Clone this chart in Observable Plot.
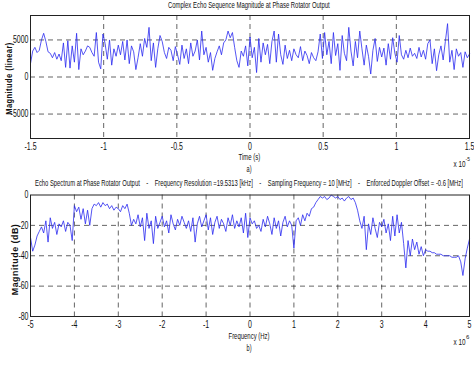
<!DOCTYPE html>
<html><head><meta charset="utf-8">
<script src="https://cdn.jsdelivr.net/npm/d3@7"></script>
<script src="https://cdn.jsdelivr.net/npm/@observablehq/plot@0.6"></script>
<style>
html,body{margin:0;padding:0;background:#fff;}
#root{position:relative;width:474px;height:377px;overflow:hidden;background:#fff;font-family:"Liberation Sans",Arial,sans-serif;}
.lbl{position:absolute;white-space:pre;line-height:1;color:#111;}
#root svg{position:absolute;left:0;}
</style></head><body><div id="root"></div>
<script>
// ---- Data: panel a) echo magnitude (linear), time in units of 1e-5 s ----
const timeStart = -1.5, timeStep = 0.015;
const magnitude = [
 1800,3500,4000,3300,3600,5000,5900,4800,3400,3200,
 2600,3300,2400,3100,2200,4600,1300,4900,1200,4200,
 2000,5900,1000,3800,3000,3500,4200,4000,3300,2800,
 6000,2000,1100,5800,4500,2400,5000,1600,3800,2800,
 4300,3000,4800,2300,5000,1800,4200,3400,1000,2600,
 4500,2800,5200,4000,6700,2200,4600,1300,3800,5600,
 4800,3300,2500,4000,3600,2200,4100,3000,1700,4300,
 2500,3800,1800,4600,2800,3500,5000,2300,6200,3000,
 4000,2000,3300,900,2500,3400,4200,3000,4600,5000,
 6200,5300,6000,4000,2200,1300,3500,2800,4200,1500,
 5400,2600,4000,600,5200,2000,4600,3000,4400,1800,
 4800,6200,2000,5800,3000,1700,4300,2500,3600,2200,
 3800,3000,2600,4100,2200,3500,2900,1800,3300,2600,
 2200,3400,5800,2500,6000,3000,4800,1800,6000,2900,
 4500,900,5600,3200,2200,6700,3500,1500,4800,2600,
 6200,3800,1600,4300,2800,400,3600,5200,2100,4000,
 2700,3900,1600,4500,2400,5300,3200,2000,5600,3000,
 2400,3600,2600,3900,2800,3200,2500,4000,2700,3600,
 2400,4500,5000,1800,3800,850,3000,4200,2300,4800,
 7200,2000,3600,1000,3800,2800,3300,1300,3400,2600,3100
];
const timeTicks = [-1.5, -1, -0.5, 0, 0.5, 1, 1.5];
const magTicks = [-5000, 0, 5000];

// ---- Data: panel b) echo spectrum (dB), frequency in units of 1e6 Hz ----
const freqStart = -5, freqStep = 0.05;
const spectrum = [
 -28,-37,-33,-27,-24,-21,-25,-17,-31,-15,
 -22,-18,-26,-19,-21,-17,-24,-18,-20,-30,
 -7,-11,-8,-16,-9,-19,-10,-20,-9,-6,
 -7,-5,-8,-5,-7,-6,-9,-7,-10,-8,
 -9,-11,-7,-9,-6,-12,-20,-16,-19,-13,
 -21,-15,-30,-12,-22,-17,-32,-14,-22,-18,
 -14,-21,-17,-25,-13,-19,-23,-16,-20,-14,
 -18,-22,-17,-24,-15,-31,-19,-14,-21,-17,
 -13,-23,-15,-26,-18,-14,-22,-16,-19,-24,
 -15,-20,-13,-22,-17,-21,-15,-25,-12,-28,
 -15,-19,-17,-22,-20,-24,-16,-21,-14,-19,
 -26,-15,-22,-17,-27,-18,-14,-21,-17,-20,
 -35,-17,-15,-20,-13,-17,-12,-14,-9,-8,
 -5,-3,-1,-2,-1,-3,-2,0,-1,-2,
 -1,-3,-2,-4,-2,-1,-3,-2,-5,-10,
 -17,-22,-14,-36,-19,-26,-15,-22,-28,-18,
 -21,-16,-25,-19,-30,-14,-27,-13,-25,-18,
 -32,-48,-30,-40,-29,-36,-31,-39,-34,-40,
 -36,-37,-37,-38,-38,-39,-39,-39,-40,-40,
 -40,-40,-41,-41,-41,-40,-44,-53,-42,-35,-29
];
const freqTicks = [-5,-4,-3,-2,-1,0,1,2,3,4,5];
const dbTicks = [0, -20, -40, -60, -80];

const root = document.getElementById("root");
const FONT = '"Liberation Sans",Arial,sans-serif';
const fmt = d => String(d);
const lineColor = "#2a2af0";
const gridStyle = {stroke: "#222", strokeOpacity: 1, strokeWidth: 0.7, strokeDasharray: "5,4"};

const echo = magnitude.map((v, i) => ({t: timeStart + i * timeStep, v}));
const spec = spectrum.map((v, i) => ({f: freqStart + i * freqStep, v}));

// narrow the tick labels horizontally around their anchor
function squeeze(svg, s) {
  svg.querySelectorAll("text").forEach(t => {
    const tr = t.getAttribute("transform") || "";
    const x = +(t.getAttribute("x") || 0);
    t.setAttribute("transform", `${tr} translate(${x},0) scale(${s},1) translate(${-x},0)`);
  });
}

const plotA = Plot.plot({
  width: 474, height: 160,
  marginTop: 15, marginBottom: 22, marginLeft: 30, marginRight: 5,
  style: {fontFamily: FONT, fontSize: "10px", color: "#111", background: "transparent", overflow: "visible"},
  x: {domain: [-1.5, 1.5], ticks: timeTicks, tickFormat: fmt, tickSize: 0, tickPadding: 4, label: null},
  y: {domain: [-8300, 8300], ticks: magTicks, tickFormat: fmt, tickSize: 0, tickPadding: 2, label: null},
  marks: [
    Plot.gridX(timeTicks.slice(1, -1), gridStyle),
    Plot.gridY(magTicks, gridStyle),
    Plot.line(echo, {x: "t", y: "v", stroke: lineColor, strokeWidth: 0.8}),
    Plot.frame({stroke: "#222", strokeWidth: 1})
  ]
});
plotA.style.top = "0px";
squeeze(plotA, 0.7);
root.appendChild(plotA);

const plotB = Plot.plot({
  width: 474, height: 150,
  marginTop: 9.5, marginBottom: 19, marginLeft: 30, marginRight: 5,
  style: {fontFamily: FONT, fontSize: "10px", color: "#111", background: "transparent", overflow: "visible"},
  x: {domain: [-5, 5], ticks: freqTicks, tickFormat: fmt, tickSize: 0, tickPadding: 4, label: null},
  y: {domain: [-80, 0], ticks: dbTicks, tickFormat: fmt, tickSize: 0, tickPadding: 2, label: null},
  marks: [
    Plot.gridX(freqTicks.slice(1, -1), gridStyle),
    Plot.gridY(dbTicks.slice(1, -1), gridStyle),
    Plot.line(spec, {x: "f", y: "v", stroke: lineColor, strokeWidth: 0.8}),
    Plot.frame({stroke: "#222", strokeWidth: 1})
  ]
});
plotB.style.top = "185px";
squeeze(plotB, 0.7);
root.appendChild(plotB);

function label(text, cx, cy, w, size, opts = {}) {
  const d = document.createElement("div");
  d.className = "lbl";
  d.style.fontSize = size + "px";
  if (opts.bold) d.style.fontWeight = "bold";
  if (opts.spacing) d.style.letterSpacing = opts.spacing + "px";
  d.textContent = text;
  root.appendChild(d);
  const bw = d.offsetWidth, bh = d.offsetHeight;
  const s = w ? w / bw : 1;
  d.style.left = (cx - bw / 2) + "px";
  d.style.top = (cy - bh / 2) + "px";
  d.style.transform = (opts.rotate ? "rotate(-90deg) " : "") + `scaleX(${s})`;
}

label("Complex Echo Sequence Magnitude at Phase Rotator Output", 249, 5, 162, 9);
label("Time (s)", 249, 157, 22, 9);
label("a)", 249, 169, 5, 9);
label("x 10", 459, 164, 12, 9);
label("-5", 467.5, 159, 4, 6);
label("Magnitude (linear)", 9, 78, 73, 9, {bold: true, rotate: true, spacing: 0.5});

label("Echo Spectrum at Phase Rotator Output    -    Frequency Resolution =19.5313 [kHz]    -    Sampling Frequency = 10 [MHz]    -    Enforced Doppler Offset = -0.6 [MHz]", 249, 183, 428, 9);
label("Frequency (Hz)", 249, 336, 41, 9);
label("b)", 249, 348, 5, 9);
label("x 10", 459, 342, 12, 9);
label("6", 467.5, 337, 3, 6);
label("Magnitude (dB)", 15, 259, 72, 9, {bold: true, rotate: true, spacing: 0.5});
</script></body></html>
